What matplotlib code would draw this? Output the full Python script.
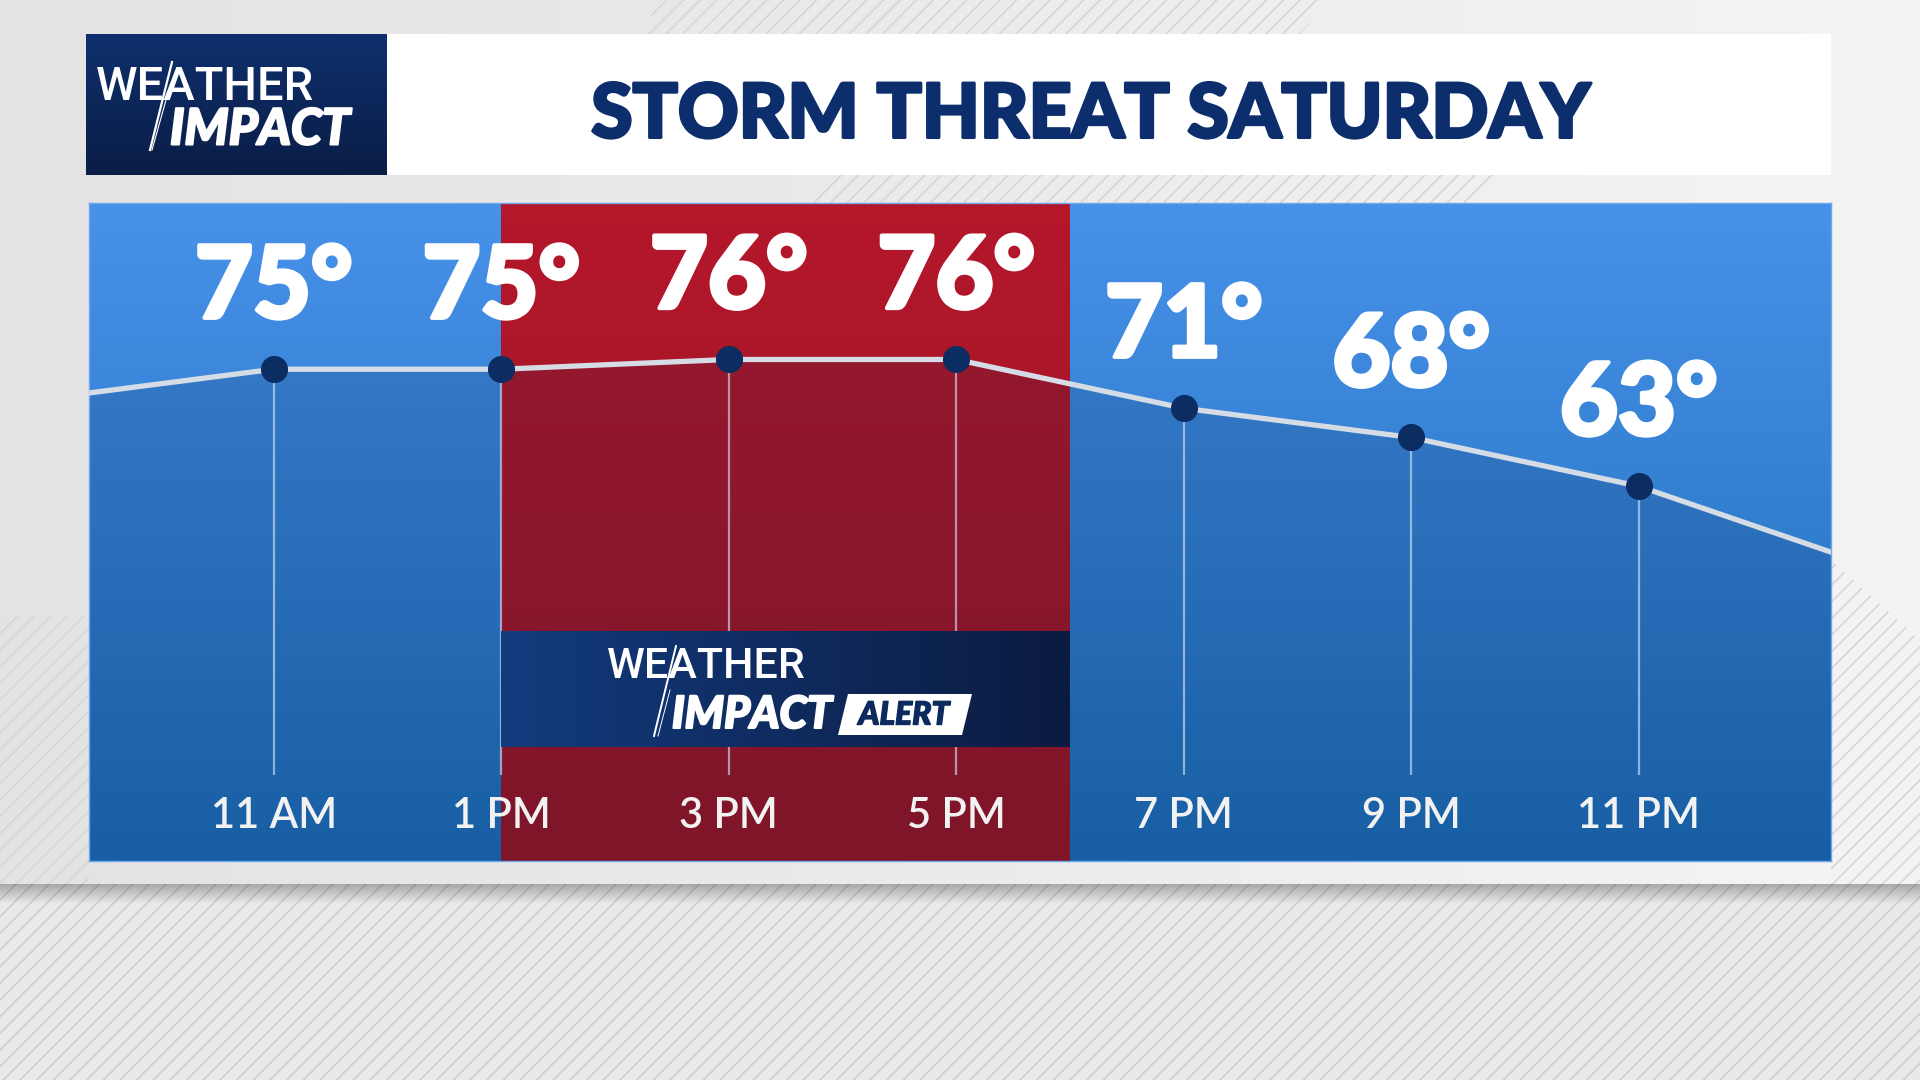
import numpy as np
import matplotlib
matplotlib.use("Agg")
import matplotlib.pyplot as plt
import matplotlib.patheffects as pe
from matplotlib.colors import to_rgb
from matplotlib.patches import Polygon, Rectangle

# --- data -------------------------------------------------------------
# hours of the day (9 = 9 AM, 25 = 1 AM next day); the outer two points only
# carry the line off the panel edges
hours = [9, 11, 13, 15, 17, 19, 21, 23, 25]
temps = [72, 75, 75, 76, 76, 71, 68, 63, 55]

label_hours = [11, 13, 15, 17, 19, 21, 23]
label_temps = [75, 75, 76, 76, 71, 68, 63]
time_labels = ["11 AM", "1 PM", "3 PM", "5 PM", "7 PM", "9 PM", "11 PM"]

alert_start, alert_end = 13, 18
title = "STORM THREAT SATURDAY"

# --- style ------------------------------------------------------------
W, H = 1920, 1080
NAVY = "#0c2e6c"
HEAVY = ["Lato", "DejaVu Sans"]
plt.rcParams["hatch.linewidth"] = 1.2


def gradient(c0, c1, n=256, horizontal=False):
    a = np.linspace(0, 1, n)[:, None]
    c = (1 - a) * np.array(to_rgb(c0)) + a * np.array(to_rgb(c1))
    return c[None, :, :] if horizontal else c[:, None, :]


def thick(color, lw):
    return [pe.withStroke(linewidth=lw, foreground=color)]


fig = plt.figure(figsize=(19.2, 10.8), dpi=100)

# background layer in pixel coordinates (y pointing down)
bg = fig.add_axes([0, 0, 1, 1], zorder=0)
bg.imshow(gradient("#e3e3e3", "#f4f4f4", horizontal=True),
          extent=(0, W, 884, 0), aspect="auto", interpolation="bicubic", zorder=0)
# hatched patches of the backdrop
for pts in [
    [(660, 0), (1330, 0), (1300, 34), (640, 34)],
    [(830, 175), (1500, 175), (1480, 203), (810, 203)],
    [(0, 616), (89, 616), (89, 884), (0, 884)],
    [(1831, 560), (1920, 640), (1920, 884), (1831, 884)],
]:
    bg.add_patch(Polygon(pts, closed=True, facecolor="none",
                         edgecolor="#d6d6d6", hatch="//", linewidth=0, zorder=1))
bg.add_patch(Rectangle((0, 884), W, H - 884, facecolor="#e9e9e9",
                       edgecolor="#cecece", hatch="//", linewidth=0, zorder=1))
shadow = np.zeros((40, 1, 4))
shadow[:, 0, 3] = np.linspace(0.28, 0, 40)
bg.imshow(shadow, extent=(0, W, 904, 884), aspect="auto",
          interpolation="bicubic", zorder=2)

# header bar with logo block
bg.add_patch(Rectangle((86, 34), 1745, 141, facecolor="white", linewidth=0, zorder=2))
bg.imshow(gradient("#0f306d", "#0a1d46"), extent=(86, 387, 175, 34),
          aspect="auto", interpolation="bicubic", zorder=3)
bg.text(205, 87, "WEATHER", ha="center", va="center", color="white",
        fontsize=34, fontweight="medium", family=["Roboto", "DejaVu Sans"], zorder=4)
bg.text(260, 130, "IMPACT", ha="center", va="center", color="white",
        fontsize=36, fontweight="black", fontstyle="italic", family=HEAVY,
        path_effects=thick("white", 1.5), zorder=4)
bg.plot([172, 150], [62, 150], color="white", lw=1.6, zorder=4)
bg.plot([166, 152], [100, 150], color="white", lw=0.8, zorder=4)
bg.text(1091, 116, title, ha="center", va="center", color=NAVY,
        fontsize=54, fontweight="black", family=HEAVY,
        path_effects=thick(NAVY, 2.2), zorder=4)
bg.set_xlim(0, W)
bg.set_ylim(H, 0)
bg.axis("off")

# --- chart panel ------------------------------------------------------
ax = fig.add_axes([89 / W, 1 - 861 / H, 1742 / W, 658 / H], zorder=2)
x0, x1 = 9.377, 24.69
y0, y1 = 24.56, 92.05

ax.imshow(gradient("#4892ea", "#1b6ab4"), extent=(x0, x1, y0, y1),
          aspect="auto", interpolation="bicubic", zorder=0)
ax.imshow(gradient("#b5172b", "#931424"), extent=(alert_start, alert_end, y0, y1),
          aspect="auto", interpolation="bicubic", zorder=0.5)
ax.fill_between(hours, temps, y0, color="#08204a", alpha=0.15, lw=0, zorder=1)

stem_bottom = y0 + 0.131 * (y1 - y0)
ax.vlines(label_hours, stem_bottom, label_temps, color="#dbe8fa", alpha=0.6,
          lw=1.6, zorder=2)
ax.plot(hours, temps, color="#d6dce6", lw=3.8, zorder=3, solid_capstyle="round")
ax.plot(label_hours, label_temps, "o", ms=18.5, color="#0b2d62", zorder=4)

for h, t in zip(label_hours, label_temps):
    ax.annotate(f"{t}°", (h, t), xytext=(0, 37), textcoords="offset points",
                ha="center", va="baseline", color="white", fontsize=72,
                fontweight="black", family=HEAVY,
                path_effects=thick("white", 3), zorder=5)

for h, lbl in zip(label_hours, time_labels):
    ax.text(h, 0.069, lbl, transform=ax.get_xaxis_transform(), ha="center",
            va="center", color="#f2f2f2", fontsize=30, fontweight="semibold",
            family=HEAVY, zorder=5)

# impact alert banner across the red window
yb0 = y0 + 0.173 * (y1 - y0)
yb1 = y0 + 0.348 * (y1 - y0)
ax.imshow(gradient("#133b7e", "#0b1b40", horizontal=True),
          extent=(alert_start, alert_end, yb0, yb1), aspect="auto",
          interpolation="bicubic", zorder=6)

ax.set_xlim(x0, x1)
ax.set_ylim(y0, y1)
ax.set_xticks([])
ax.set_yticks([])
for s in ax.spines.values():
    s.set_color("#6fa6ee")
    s.set_linewidth(1)

# banner lettering on a top layer in pixel coordinates
top = fig.add_axes([0, 0, 1, 1], zorder=5)
top.patch.set_alpha(0)
top.text(706, 667, "WEATHER", ha="center", va="center", color="white",
         fontsize=31, fontweight="medium", family=["Roboto", "DejaVu Sans"])
top.text(752, 715, "IMPACT", ha="center", va="center", color="white",
         fontsize=32, fontweight="black", fontstyle="italic", family=HEAVY,
         path_effects=thick("white", 1.5))
top.add_patch(Polygon([(848, 694), (972, 694), (962, 735), (838, 735)],
                      closed=True, facecolor="white", linewidth=0))
top.text(904, 715, "ALERT", ha="center", va="center", color="#0d2a5e",
         fontsize=23, fontweight="black", fontstyle="italic", family=HEAVY,
         path_effects=thick("#0d2a5e", 1))
top.plot([676, 654], [646, 736], color="white", lw=1.4)
top.plot([670, 658], [690, 736], color="white", lw=0.7)
top.set_xlim(0, W)
top.set_ylim(H, 0)
top.axis("off")

fig.savefig("out.png", dpi=100)
